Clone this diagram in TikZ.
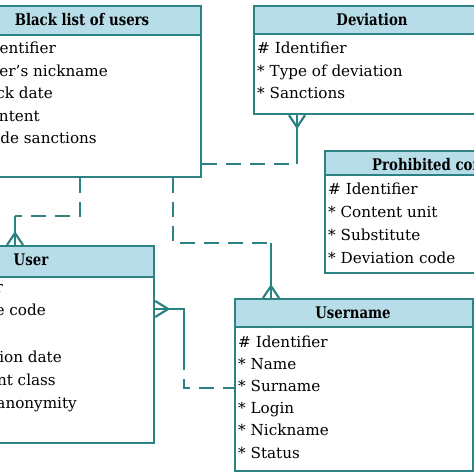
\documentclass[tikz,border=0pt]{standalone}
\usepackage{fontspec}
\setmainfont{DejaVu Serif}
\newfontfamily\ttlfont[FakeStretch=0.83]{DejaVu Serif}
\definecolor{tealln}{RGB}{44,130,130}
\definecolor{hdrfill}{RGB}{182,221,232}
\tikzset{
  ent/.style={draw=tealln, line width=2.2pt, fill=white, anchor=north west, inner sep=0pt},
  enthdr/.style={draw=tealln, line width=2.2pt, fill=hdrfill, anchor=north west, inner sep=0pt},
  ttl/.style={anchor=base, inner sep=0pt, font=\ttlfont\fontsize{16}{19}\selectfont\bfseries},
  attr/.style={anchor=base west, inner sep=0pt},
  attrR/.style={anchor=base east, inner sep=0pt},
  solidln/.style={draw=tealln, line width=2.2pt},
  dashln/.style={draw=tealln, line width=2.2pt, dash pattern=on 15pt off 9pt}
}
\begin{document}
\begin{tikzpicture}[x=1pt,y=-1pt, font=\fontsize{15.2}{18}\selectfont]
\useasboundingbox (0,0) rectangle (474,474);
\clip (0,0) rectangle (474,474);

% Black list of users
\node[ent, minimum width=236pt, minimum height=171pt] (bl) at (-36,5) {};
\node[enthdr, minimum width=236pt, minimum height=29pt] (blh) at (-36,5) {};
\node[ttl] (blt) at (82,25) {Black list of users};
\node[attrR] (bl1) at (56,53.5) {\# Identifier};
\node[attrR] (bl2) at (108,76) {* User's nickname};
\node[attrR] (bl3) at (53,98.5) {* Block date};
\node[attrR] (bl4) at (40,121) {* Content};
\node[attrR] (bl5) at (97,143.5) {* Code sanctions};

% Deviation
\node[ent, minimum width=238pt, minimum height=108pt] (dev) at (253,5) {};
\node[enthdr, minimum width=238pt, minimum height=28pt] (devh) at (253,5) {};
\node[ttl] (devt) at (372,25) {Deviation};
\node[attr] (dev1) at (257,53.5) {\# Identifier};
\node[attr] (dev2) at (257,76) {* Type of deviation};
\node[attr] (dev3) at (257,98.5) {* Sanctions};

% Prohibited content
\node[ent, minimum width=238pt, minimum height=122pt] (pc) at (324,150) {};
\node[enthdr, minimum width=238pt, minimum height=24pt] (pch) at (324,150) {};
\node[ttl, anchor=base west] (pct) at (372,170) {Prohibited content};
\node[attr] (pc1) at (328,194.5) {\# Identifier};
\node[attr] (pc2) at (328,217.5) {* Content unit};
\node[attr] (pc3) at (328,240.5) {* Substitute};
\node[attr] (pc4) at (328,263.5) {* Deviation code};

% User
\node[ent, minimum width=244pt, minimum height=197pt] (us) at (-91,245) {};
\node[enthdr, minimum width=244pt, minimum height=31pt] (ush) at (-91,245) {};
\node[ttl] (ust) at (31,265.5) {User};
\node[attrR] (us1) at (3,292.5) {\# Identifier};
\node[attrR] (us2) at (46,315.5) {* Language code};
\node[attrR] (us4) at (62,362) {* Registration date};
\node[attrR] (us5) at (56,385) {* Assignment class};
\node[attrR] (us6) at (77,408) {* Degree of anonymity};

% Username
\node[ent, minimum width=238pt, minimum height=172pt] (un) at (234,298) {};
\node[enthdr, minimum width=238pt, minimum height=28pt] (unh) at (234,298) {};
\node[ttl] (unt) at (353,318.5) {Username};
\node[attr] (un1) at (238,347) {\# Identifier};
\node[attr] (un2) at (238,369) {* Name};
\node[attr] (un3) at (238,391.5) {* Surname};
\node[attr] (un4) at (238,413.5) {* Login};
\node[attr] (un5) at (238,435.5) {* Nickname};
\node[attr] (un6) at (238,458) {* Status};

% Black list -> Deviation
\coordinate (r1) at (297,164);
\draw[dashln] (bl.east |- r1) -- (r1);
\draw[solidln] (r1) -- (r1 |- dev.south);
\coordinate (f4) at (r1 |- dev.south);
\draw[solidln] (f4) ++(-8,0) -- ++(8,12) -- ++(8,-12);

% Black list -> User
\coordinate (p1) at (80,216);
\coordinate (p2) at (15,216);
\draw[dashln] (p1 |- bl.south) -- (p1) -- (p2);
\draw[solidln] (p2) -- (p2 |- us.north);
\coordinate (f1) at (p2 |- us.north);
\draw[solidln] (f1) ++(-8,0) -- ++(8,-12) -- ++(8,12);

% Black list -> Username
\coordinate (s1) at (173,243);
\coordinate (s2) at (271,243);
\draw[dashln] (s1 |- bl.south) -- (s1) -- (s2);
\draw[solidln] (s2) -- (s2 |- un.north);
\coordinate (f2) at (s2 |- un.north);
\draw[solidln] (f2) ++(-8,0) -- ++(8,-12) -- ++(8,12);

% User -> Username
\coordinate (q1) at (184,309);
\coordinate (q2) at (184,355);
\coordinate (q3) at (184,388);
\draw[solidln] (us.east |- q1) -- (q1) -- (q2);
\draw[dashln] (q2) -- (q3) -- (q3 -| un.west);
\coordinate (f3) at (us.east |- q1);
\draw[solidln] (f3) ++(0,-8) -- ++(13,8) -- ++(-13,8);
\end{tikzpicture}
\end{document}
